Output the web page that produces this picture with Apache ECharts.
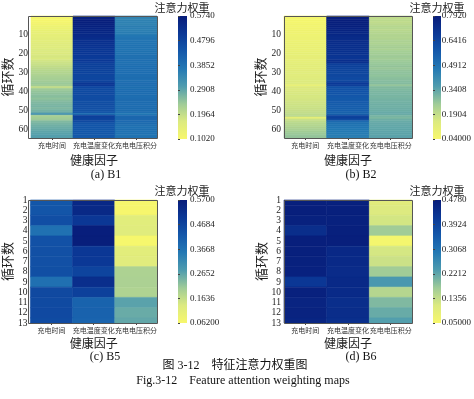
<!DOCTYPE html>
<html>
<head>
<meta charset="utf-8">
<script src="https://cdn.jsdelivr.net/npm/echarts@6/dist/echarts.min.js"></script>
<style>
html, body { margin: 0; padding: 0; background: #fff; }
#main { width: 474px; height: 399px; }
</style>
</head>
<body>
<div id="main"></div>
<script>
// 健康因子
var factors = ['充电时间', '充电温度变化', '充电电压积分'];

// B1 (64 cycles)
var b1Time = [0.104, 0.106, 0.108, 0.112, 0.116, 0.122, 0.128, 0.134, 0.138, 0.142,
  0.146, 0.150, 0.154, 0.152, 0.158, 0.162, 0.160, 0.166, 0.170, 0.168,
  0.172, 0.176, 0.170, 0.180, 0.186, 0.192, 0.198, 0.204, 0.210, 0.214,
  0.218, 0.222, 0.226, 0.230, 0.234, 0.240, 0.232, 0.198, 0.236, 0.244,
  0.248, 0.252, 0.256, 0.250, 0.258, 0.262, 0.266, 0.270, 0.264, 0.272,
  0.278, 0.330, 0.226, 0.232, 0.238, 0.262, 0.270, 0.276, 0.280, 0.284,
  0.290, 0.294, 0.298, 0.300];
var b1Temp = [0.560, 0.565, 0.568, 0.566, 0.562, 0.558, 0.555, 0.552, 0.548, 0.545,
  0.540, 0.536, 0.530, 0.526, 0.522, 0.520, 0.516, 0.512, 0.510, 0.506,
  0.504, 0.500, 0.498, 0.506, 0.494, 0.490, 0.488, 0.486, 0.484, 0.482,
  0.480, 0.478, 0.476, 0.474, 0.486, 0.510, 0.504, 0.470, 0.468, 0.466,
  0.470, 0.466, 0.462, 0.464, 0.460, 0.458, 0.462, 0.456, 0.454, 0.452,
  0.450, 0.400, 0.490, 0.486, 0.482, 0.470, 0.448, 0.444, 0.442, 0.440,
  0.438, 0.440, 0.436, 0.434];
var b1Volt = [0.352, 0.350, 0.354, 0.356, 0.352, 0.358, 0.360, 0.356, 0.362, 0.364,
  0.376, 0.380, 0.378, 0.382, 0.380, 0.384, 0.382, 0.380, 0.386, 0.384,
  0.388, 0.386, 0.390, 0.392, 0.388, 0.390, 0.392, 0.394, 0.390, 0.392,
  0.394, 0.392, 0.396, 0.394, 0.392, 0.396, 0.394, 0.392, 0.396, 0.398,
  0.396, 0.398, 0.394, 0.396, 0.398, 0.400, 0.396, 0.398, 0.400, 0.398,
  0.396, 0.372, 0.404, 0.408, 0.406, 0.402, 0.398, 0.390, 0.386, 0.388,
  0.384, 0.386, 0.382, 0.384];

// B2 (64 cycles)
var b2Time = [0.046, 0.048, 0.050, 0.052, 0.054, 0.060, 0.064, 0.068, 0.066, 0.072,
  0.076, 0.080, 0.078, 0.082, 0.086, 0.088, 0.092, 0.090, 0.094, 0.098,
  0.100, 0.104, 0.102, 0.106, 0.110, 0.114, 0.118, 0.116, 0.120, 0.124,
  0.128, 0.132, 0.130, 0.134, 0.138, 0.142, 0.096, 0.140, 0.146, 0.150,
  0.154, 0.158, 0.156, 0.160, 0.164, 0.168, 0.172, 0.176, 0.180, 0.184,
  0.190, 0.196, 0.210, 0.110, 0.180, 0.200, 0.210, 0.218, 0.226, 0.234,
  0.246, 0.256, 0.264, 0.270];
var b2Temp = [0.780, 0.784, 0.786, 0.782, 0.778, 0.772, 0.766, 0.760, 0.754, 0.748,
  0.742, 0.738, 0.734, 0.730, 0.726, 0.722, 0.718, 0.714, 0.710, 0.706,
  0.702, 0.698, 0.694, 0.720, 0.712, 0.660, 0.654, 0.648, 0.642, 0.638,
  0.634, 0.630, 0.626, 0.622, 0.640, 0.680, 0.660, 0.600, 0.594, 0.590,
  0.586, 0.582, 0.578, 0.574, 0.570, 0.566, 0.562, 0.558, 0.554, 0.550,
  0.546, 0.542, 0.640, 0.660, 0.620, 0.520, 0.500, 0.490, 0.480, 0.474,
  0.466, 0.460, 0.456, 0.450];
var b2Volt = [0.200, 0.196, 0.204, 0.198, 0.206, 0.210, 0.214, 0.208, 0.216, 0.220,
  0.224, 0.220, 0.226, 0.232, 0.228, 0.236, 0.240, 0.234, 0.242, 0.246,
  0.250, 0.254, 0.248, 0.256, 0.260, 0.264, 0.268, 0.262, 0.270, 0.274,
  0.278, 0.272, 0.280, 0.284, 0.288, 0.290, 0.270, 0.292, 0.296, 0.300,
  0.302, 0.306, 0.304, 0.308, 0.312, 0.314, 0.318, 0.316, 0.320, 0.324,
  0.326, 0.330, 0.310, 0.300, 0.320, 0.328, 0.332, 0.334, 0.336, 0.338,
  0.340, 0.342, 0.344, 0.346];

// B5 (13 cycles)
var b5Time = [0.430, 0.432, 0.448, 0.370, 0.440, 0.442, 0.444, 0.446, 0.372, 0.460, 0.456, 0.458, 0.454];
var b5Temp = [0.540, 0.538, 0.500, 0.566, 0.568, 0.500, 0.498, 0.470, 0.524, 0.480, 0.400, 0.402, 0.398];
var b5Volt = [0.064, 0.066, 0.120, 0.124, 0.064, 0.118, 0.122, 0.190, 0.192, 0.188, 0.270, 0.256, 0.262];

// B6 (13 cycles)
var b6Time = [0.472, 0.474, 0.470, 0.440, 0.474, 0.472, 0.470, 0.468, 0.420, 0.470, 0.462, 0.464, 0.460];
var b6Temp = [0.470, 0.472, 0.470, 0.472, 0.474, 0.452, 0.450, 0.446, 0.450, 0.448, 0.440, 0.442, 0.438];
var b6Volt = [0.100, 0.110, 0.120, 0.170, 0.056, 0.118, 0.128, 0.170, 0.240, 0.150, 0.196, 0.214, 0.230];

// 色标刻度
var b1Ticks = ['0.1020', '0.1964', '0.2908', '0.3852', '0.4796', '0.5740'];
var b2Ticks = ['0.04000', '0.1904', '0.3408', '0.4912', '0.6416', '0.7920'];
var b5Ticks = ['0.06200', '0.1636', '0.2652', '0.3668', '0.4684', '0.5700'];
var b6Ticks = ['0.05000', '0.1356', '0.2212', '0.3068', '0.3924', '0.4780'];

// 纵轴刻度
var longRowTicks = [10, 20, 30, 40, 50, 60];
var shortRowTicks = [1, 2, 3, 4, 5, 6, 7, 8, 9, 10, 11, 12, 13];

var cmap = ['#f7f76c', '#dcea80', '#9fcb98', '#4f9cae', '#2479b4', '#1458aa', '#0b3896', '#081d7a'];

var serif = 'Liberation Serif, Noto Sans CJK SC';
var cjk = 'Noto Sans CJK SC';

var panels = [
  { cols: [b1Time, b1Temp, b1Volt], ticks: b1Ticks, rowTicks: longRowTicks, yMin: 0.5, yMax: 64.5,
    grid: { left: 28, top: 16, width: 129, height: 122 }, cb: { left: 178, top: 16, width: 9, height: 123 },
    nameGap: 16, label: '(a) B1', labelPos: [106, 175], titlePos: [182, 8] },
  { cols: [b2Time, b2Temp, b2Volt], ticks: b2Ticks, rowTicks: longRowTicks, yMin: 0.5, yMax: 64.5,
    grid: { left: 284, top: 16, width: 128, height: 122 }, cb: { left: 433, top: 16, width: 8, height: 123 },
    nameGap: 16, label: '(b) B2', labelPos: [361, 175], titlePos: [437, 8] },
  { cols: [b5Time, b5Temp, b5Volt], ticks: b5Ticks, rowTicks: shortRowTicks, yMin: 1, yMax: 13,
    grid: { left: 28, top: 200, width: 129, height: 123 }, cb: { left: 178, top: 200, width: 9, height: 123 },
    nameGap: 14, label: '(c) B5', labelPos: [105, 357], titlePos: [182, 191] },
  { cols: [b6Time, b6Temp, b6Volt], ticks: b6Ticks, rowTicks: shortRowTicks, yMin: 1, yMax: 13,
    grid: { left: 284, top: 200, width: 128, height: 123 }, cb: { left: 433, top: 200, width: 8, height: 123 },
    nameGap: 14, label: '(d) B6', labelPos: [361, 357], titlePos: [437, 191] }
];

function renderCell(params, api) {
  var x = api.value(0), y = api.value(1);
  var p0 = api.coord([x - 0.5, y - 0.5]);
  var p1 = api.coord([x + 0.5, y + 0.5]);
  var cs = params.coordSys;
  var rect = echarts.graphic.clipRectByRect({
    x: Math.min(p0[0], p1[0]), y: Math.min(p0[1], p1[1]),
    width: Math.abs(p1[0] - p0[0]), height: Math.abs(p1[1] - p0[1])
  }, { x: cs.x, y: cs.y, width: cs.width, height: cs.height });
  if (!rect) return;
  var c = api.visual('color');
  return { type: 'rect', shape: rect, style: { fill: c, stroke: c, lineWidth: 0.6 } };
}

// gradient for the colour bars (top = max)
var cbStops = cmap.map(function (c, k) {
  return { offset: 1 - k / (cmap.length - 1), color: c };
}).reverse();

// heatmap grids/axes first (index 0-3), colorbar grids/axes after (index 4-7)
var grids = [], xAxes = [], yAxes = [], series = [], visualMaps = [], graphics = [];
var cbGrids = [], cbX = [], cbY = [];

panels.forEach(function (p, i) {
  var data = [];
  p.cols.forEach(function (col, j) {
    col.forEach(function (v, r) { data.push([j, r + 1, v]); });
  });
  var vMin = parseFloat(p.ticks[0]), vMax = parseFloat(p.ticks[p.ticks.length - 1]);

  grids.push(p.grid);
  xAxes.push({
    type: 'value', gridIndex: i, min: -0.5, max: 2.5,
    splitLine: { show: false },
    axisLine: { show: false },
    axisTick: { show: true, length: 2, customValues: [0, 1, 2], lineStyle: { color: '#444' } },
    axisLabel: { customValues: [0, 1, 2], margin: 4, fontSize: 7, color: '#333', fontFamily: cjk,
      formatter: function (v) { return factors[Math.round(v)]; } },
    name: '健康因子', nameLocation: 'middle', nameGap: p.nameGap,
    nameTextStyle: { fontSize: 12, color: '#222', fontFamily: cjk }
  });
  yAxes.push({
    type: 'value', gridIndex: i, inverse: true, min: p.yMin, max: p.yMax,
    splitLine: { show: false },
    axisLine: { show: false },
    axisTick: { show: true, length: 2, customValues: p.rowTicks, lineStyle: { color: '#444' } },
    axisLabel: { customValues: p.rowTicks, margin: 3, fontSize: 9.5, color: '#222', fontFamily: serif },
    name: '循环数', nameLocation: 'middle', nameGap: p.rowTicks.length > 6 ? 15 : 17, nameRotate: 90,
    nameTextStyle: { fontSize: 13, color: '#222', fontFamily: cjk }
  });
  series.push({
    type: 'custom', coordinateSystem: 'cartesian2d', xAxisIndex: i, yAxisIndex: i,
    renderItem: renderCell, encode: { x: 0, y: 1 }, data: data, silent: true
  });

  // colour mapping; the bar itself is drawn as a plain gradient rect
  visualMaps.push({
    type: 'continuous', show: false, seriesIndex: i, dimension: 2, min: vMin, max: vMax,
    inRange: { color: cmap }
  });
  graphics.push({
    type: 'rect', silent: true,
    shape: { x: p.cb.left, y: p.cb.top, width: p.cb.width, height: p.cb.height },
    style: { fill: new echarts.graphic.LinearGradient(0, 0, 0, 1, cbStops) }
  });
  cbGrids.push(p.cb);
  var tickVals = p.ticks.map(parseFloat);
  cbX.push({ type: 'value', gridIndex: i + 4, show: false, min: 0, max: 1 });
  cbY.push({
    type: 'value', gridIndex: i + 4, position: 'right', min: vMin, max: vMax,
    splitLine: { show: false }, axisLine: { show: false },
    axisTick: { show: true, length: 2, customValues: tickVals, lineStyle: { color: '#444' } },
    axisLabel: { customValues: tickVals, margin: 3, fontSize: 9, color: '#222', fontFamily: serif,
      formatter: function (v) {
        var k = tickVals.indexOf(v);
        return k >= 0 ? p.ticks[k] : v;
      } }
  });

  // frame, colorbar title, sub caption
  graphics.push({
    type: 'rect', z: 100, silent: true,
    shape: { x: p.grid.left + 0.5, y: p.grid.top + 0.5, width: p.grid.width, height: p.grid.height },
    style: { fill: null, stroke: '#555', lineWidth: 1 }
  });
  graphics.push({
    type: 'text', x: p.titlePos[0], y: p.titlePos[1],
    style: { text: '注意力权重', fontSize: 11, fontFamily: cjk, fill: '#222', align: 'center', verticalAlign: 'middle' }
  });
  graphics.push({
    type: 'text', x: p.labelPos[0], y: p.labelPos[1],
    style: { text: p.label, fontSize: 12, fontFamily: serif, fill: '#111', align: 'center', verticalAlign: 'middle' }
  });
});

graphics.push({
  type: 'text', x: 235, y: 366,
  style: { text: '图 3-12    特征注意力权重图', fontSize: 12, fontFamily: serif, fill: '#111', align: 'center', verticalAlign: 'middle' }
});
graphics.push({
  type: 'text', x: 243, y: 381,
  style: { text: 'Fig.3-12    Feature attention weighting maps', fontSize: 12, fontFamily: serif, fill: '#111', align: 'center', verticalAlign: 'middle' }
});

var myChart = echarts.init(document.getElementById('main'));
var option = {
  backgroundColor: '#fff',
  animation: false,
  grid: grids.concat(cbGrids),
  xAxis: xAxes.concat(cbX),
  yAxis: yAxes.concat(cbY),
  visualMap: visualMaps,
  series: series,
  graphic: graphics
};
myChart.setOption(option);
</script>
</body>
</html>
